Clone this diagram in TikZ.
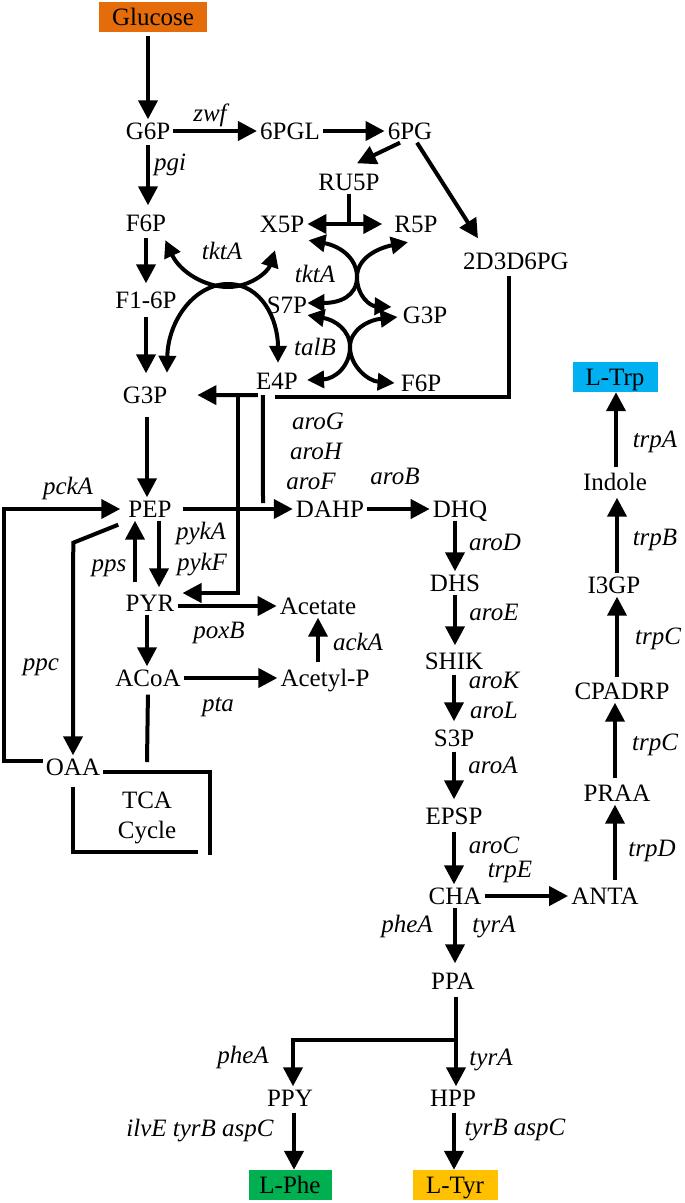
\documentclass[tikz,border=0pt]{standalone}
\usepackage{fontspec}
\setmainfont{Liberation Serif}
\usetikzlibrary{arrows.meta}
\definecolor{glc}{RGB}{228,108,10}
\definecolor{trpc}{RGB}{0,176,240}
\definecolor{phec}{RGB}{0,176,80}
\definecolor{tyrc}{RGB}{255,192,0}
\begin{document}
\begin{tikzpicture}[x=1pt,y=-1pt,
  nd/.style={inner sep=3pt,text height=17pt,text depth=0pt,font=\fontsize{25}{30}\selectfont},
  lb/.style={inner sep=0pt,text height=17pt,text depth=0pt,font=\fontsize{25}{30}\selectfont\itshape},
  bx/.style={nd,minimum height=30pt},
  ln/.style={line width=4pt},
  arr/.style={ln,-{Triangle[length=19pt,width=19pt]}},
  arrb/.style={ln,{Triangle[length=19pt,width=19pt]}-{Triangle[length=19pt,width=19pt]}},
  carr/.style={ln,{Triangle[length=17pt,width=17pt]}-{Triangle[length=17pt,width=17pt]}}]
\useasboundingbox (0,0) rectangle (685,1203);
% ---------- metabolites ----------
\node[bx,fill=glc,minimum width=108pt] (glucose) at (153,17) {Glucose};
\node[nd] (g6p) at (148,131) {G6P};
\node[nd] (pg6l) at (290,131) {6PGL};
\node[nd] (pg6) at (410,131) {6PG};
\node[nd] (ru5p) at (349,182) {RU5P};
\node[nd] (f6p) at (146,223) {F6P};
\node[nd] (x5p) at (282,224) {X5P};
\node[nd] (r5p) at (416,224) {R5P};
\node[nd] (d2d) at (516,261) {2D3D6PG};
\node[nd] (f16p) at (146,300) {F1-6P};
\node[nd] (s7p) at (287,305) {S7P};
\node[nd] (g3pr) at (425,315) {G3P};
\node[nd] (e4p) at (277,381) {E4P};
\node[nd] (f6pr) at (421,383) {F6P};
\node[nd] (g3p) at (145,395) {G3P};
\node[bx,fill=trpc,minimum width=85pt] (ltrp) at (615,377) {L-Trp};
\node[nd] (indole) at (615,482) {Indole};
\node[nd] (pep) at (150,509) {PEP};
\node[nd] (dahp) at (330,509) {DAHP};
\node[nd] (dhq) at (460,509) {DHQ};
\node[nd] (dhs) at (455,583) {DHS};
\node[nd] (i3gp) at (614,585) {I3GP};
\node[nd] (pyr) at (150,603) {PYR};
\node[nd] (acetate) at (318,606) {Acetate};
\node[nd] (shik) at (454,661) {SHIK};
\node[nd] (acoa) at (148,678) {ACoA};
\node[nd] (acetylp) at (325,678) {Acetyl-P};
\node[nd] (cpadrp) at (622,691) {CPADRP};
\node[nd] (s3p) at (454,738) {S3P};
\node[nd] (oaa) at (73,767) {OAA};
\node[nd] (praa) at (617,793) {PRAA};
\node[nd] (tca) at (147,800) {TCA};
\node[nd] (cycle) at (147,830) {Cycle};
\node[nd] (epsp) at (454,816) {EPSP};
\node[nd] (cha) at (455,896) {CHA};
\node[nd] (anta) at (605,896) {ANTA};
\node[nd] (ppa) at (453,981) {PPA};
\node[nd] (ppy) at (290,1098) {PPY};
\node[nd] (hpp) at (453,1098) {HPP};
\node[bx,fill=phec,minimum width=83pt] (lphe) at (290,1185) {L-Phe};
\node[bx,fill=tyrc,minimum width=85pt] (ltyr) at (455,1185) {L-Tyr};
% ---------- gene labels ----------
\node[lb] (zwf) at (210,113) {zwf};
\node[lb] (pgi) at (170,162) {pgi};
\node[lb] (tkta1) at (222,251) {tktA};
\node[lb] (tkta2) at (315,274) {tktA};
\node[lb] (talb) at (315,347) {talB};
\node[lb] (arog) at (318,421) {aroG};
\node[lb] (aroh) at (316,451) {aroH};
\node[lb] (arof) at (311,481) {aroF};
\node[lb] (arob) at (395,476) {aroB};
\node[lb] (pcka) at (68,486) {pckA};
\node[lb] (pyka) at (201,531) {pykA};
\node[lb] (pykf) at (202,562) {pykF};
\node[lb] (pps) at (109,563) {pps};
\node[lb] (poxb) at (219,630) {poxB};
\node[lb] (acka) at (358,642) {ackA};
\node[lb] (ppc) at (41,662) {ppc};
\node[lb] (pta) at (218,703) {pta};
\node[lb] (arod) at (495,542) {aroD};
\node[lb] (aroe) at (494,612) {aroE};
\node[lb] (arok) at (494,680) {aroK};
\node[lb] (arol) at (494,710) {aroL};
\node[lb] (aroa) at (493,765) {aroA};
\node[lb] (aroc) at (494,845) {aroC};
\node[lb] (trpe) at (510,869) {trpE};
\node[lb] (phea1) at (407,924) {pheA};
\node[lb] (tyra1) at (494,924) {tyrA};
\node[lb] (phea2) at (243,1055) {pheA};
\node[lb] (tyra2) at (491,1057) {tyrA};
\node[lb] (ilve) at (200,1128) {ilvE tyrB aspC};
\node[lb] (tyrbr) at (515,1127) {tyrB aspC};
\node[lb] (trpa) at (655,439) {trpA};
\node[lb] (trpb) at (655,537) {trpB};
\node[lb] (trpc1) at (658,636) {trpC};
\node[lb] (trpc2) at (655,742) {trpC};
\node[lb] (trpd) at (652,848) {trpD};
% ---------- free-end coordinates ----------
\coordinate (jD) at (263,503);
\coordinate (tcaA) at (147,762);
\coordinate (br) at (456,1040);
% ---------- glycolysis / PPP ----------
\draw[arr,shorten <=4pt] (g6p.north |- glucose.south) -- (g6p.north);
\draw[arr,shorten <=2pt,shorten >=6pt] (g6p.south) -- (g6p.south |- f6p.north);
\draw[arr] (g6p.east) -- (pg6l.west);
\draw[arr] (pg6l.east) -- (pg6.west);
\draw[arr] ([xshift=-10pt]pg6.south) -- ([xshift=8pt,yshift=7pt]ru5p.north);
\draw[arr] ([xshift=7pt]pg6.south) -- ([xshift=-38pt,yshift=11pt]d2d.north);
\draw[ln] (ru5p.south) -- (ru5p.south |- x5p.east);
\draw[arrb,shorten >=9pt] (x5p.east) -- (r5p.west);
\draw[arr,shorten <=3pt,shorten >=5pt] (f6p.south) -- (f6p.south |- f16p.north);
\draw[arr,shorten <=5pt,shorten >=10pt] (f16p.south) -- (f16p.south |- g3p.north);
% tktA (left)
\draw[carr] ([xshift=-4pt,yshift=-5.5pt]f6p.south east) .. controls (180,272) and (205,287) .. (228,287)
   .. controls (250,287) and (268,272) .. ([xshift=-7pt,yshift=-14.5pt]x5p.south);
\draw[carr] ([xshift=22pt,yshift=10.5pt]g3p.north) .. controls (168,320) and (195,284) .. (228,284)
   .. controls (262,284) and (278,320) .. ([xshift=1pt,yshift=6.5pt]e4p.north);
% tktA (middle)
\draw[carr] ([xshift=1pt,yshift=-4.5pt]x5p.south east) .. controls (340,246) and (357,258) .. (357,277)
   .. controls (357,296) and (370,306) .. ([xshift=-8pt,yshift=8pt]g3pr.west);
\draw[carr] ([xshift=-8pt,yshift=-6.5pt]r5p.south) .. controls (378,248) and (357,258) .. (357,277)
   .. controls (357,296) and (340,303) .. ([xshift=-3pt,yshift=2pt]s7p.east);
% talB
\draw[carr] ([xshift=-3pt,yshift=-10pt]s7p.east) .. controls (335,320) and (350,330) .. (350,347)
   .. controls (350,366) and (368,381) .. ([xshift=-3pt]f6pr.west);
\draw[carr] ([xshift=-2pt,yshift=-2pt]g3pr.west) .. controls (368,320) and (350,330) .. (350,347)
   .. controls (350,366) and (335,379) .. ([xshift=6pt,yshift=1pt]e4p.east);
% 2D3D6PG and E4P
\draw[ln,shorten <=3pt] ([xshift=-7pt]d2d.south) |- ([xshift=-2pt,yshift=-4pt]e4p.south);
\draw[arr,shorten >=27pt] ([xshift=5pt,yshift=-2.5pt]e4p.south west) -- (g3p.east);
\draw[arr,shorten >=5pt] ([xshift=-15pt,yshift=-2.5pt]e4p.south west) |- ([yshift=10pt]pyr.east);
\draw[ln] ([xshift=10pt,yshift=-2.5pt]e4p.south west) -- (jD);
\draw[arr,shorten <=10pt] ([xshift=2pt]g3p.south) -- ([xshift=2pt]g3p.south |- pep.north);
% PEP / PYR
\draw[arr,shorten <=8pt] (pep.east) -- (dahp.west);
\draw[arr] (dahp.east) -- (dhq.west);
\draw[arr,shorten <=9pt] ([xshift=-15pt]pyr.north) -- ([xshift=-15pt]pep.south);
\draw[arr,shorten >=4pt] ([xshift=9pt]pep.south) -- ([xshift=9pt]pyr.north);
\draw[arr] ([yshift=-3pt]pyr.east) -- (acetate.west);
\draw[arr] ([xshift=-3pt]pyr.south) -- ([xshift=-3pt]pyr.south |- acoa.north);
\draw[arr] (acoa.east) -- (acetylp.west);
\draw[arr,shorten <=4pt] ([xshift=-7pt]acetylp.north) -- ([xshift=-7pt]acetylp.north |- acetate.south);
\draw[ln,shorten <=5pt] (acoa.south) -- (tcaA);
\draw[arr,shorten >=5pt] ([yshift=6pt]oaa.west) -- ++(-39,0) |- (pep.west);
\draw[arr] ([xshift=-7pt,yshift=-4pt]pep.south west) -- ++(-45,18) -- (oaa.north);
% TCA bracket
\draw[ln] ([yshift=-5pt]oaa.east) -- ++(107,0) -- ++(0,83);
\draw[ln] ([yshift=-8pt]oaa.south) -- ++(0,65.5) -- ++(125,0);
% shikimate pathway
\draw[arr] (dhs.north |- dhq.south) -- (dhs.north);
\draw[arr,shorten >=4pt] (dhs.south) -- (dhs.south |- shik.north);
\draw[arr,shorten <=2pt,shorten >=5pt] (shik.south) -- (shik.south |- s3p.north);
\draw[arr,shorten <=2pt,shorten >=5pt] (s3p.south) -- (s3p.south |- epsp.north);
\draw[arr,shorten <=4pt] (epsp.south) -- (epsp.south |- cha.north);
\draw[arr,shorten >=6pt] (cha.south) -- (cha.south |- ppa.north);
\draw[arr] (cha.east) -- (anta.west);
\draw[arr,shorten <=4pt] ([xshift=3pt]ppa.south) -- ([xshift=3pt]ppa.south |- hpp.north);
\draw[arr] (br) -| ([xshift=3pt]ppy.north);
\draw[arr,shorten <=3pt] ([xshift=4pt]ppy.south) -- ([xshift=4pt]ppy.south |- lphe.north);
\draw[arr,shorten <=3pt] ([xshift=1pt]hpp.south) -- ([xshift=1pt]hpp.south |- ltyr.north);
% tryptophan branch
\draw[arr,shorten <=4pt] ([xshift=-2pt]praa.south |- anta.north) -- ([xshift=-2pt]praa.south);
\draw[arr,shorten <=3pt] ([xshift=-2pt]praa.north) -- ([xshift=-2pt]praa.north |- cpadrp.south);
\draw[arr,shorten <=2pt] ([xshift=3pt]i3gp.south |- cpadrp.north) -- ([xshift=3pt]i3gp.south);
\draw[arr,shorten >=4pt] ([xshift=3pt]i3gp.north) -- ([xshift=3pt]i3gp.north |- indole.south);
\draw[arr,shorten <=3pt] ([xshift=1pt]indole.north) -- ([xshift=1pt]indole.north |- ltrp.south);
\end{tikzpicture}
\end{document}
